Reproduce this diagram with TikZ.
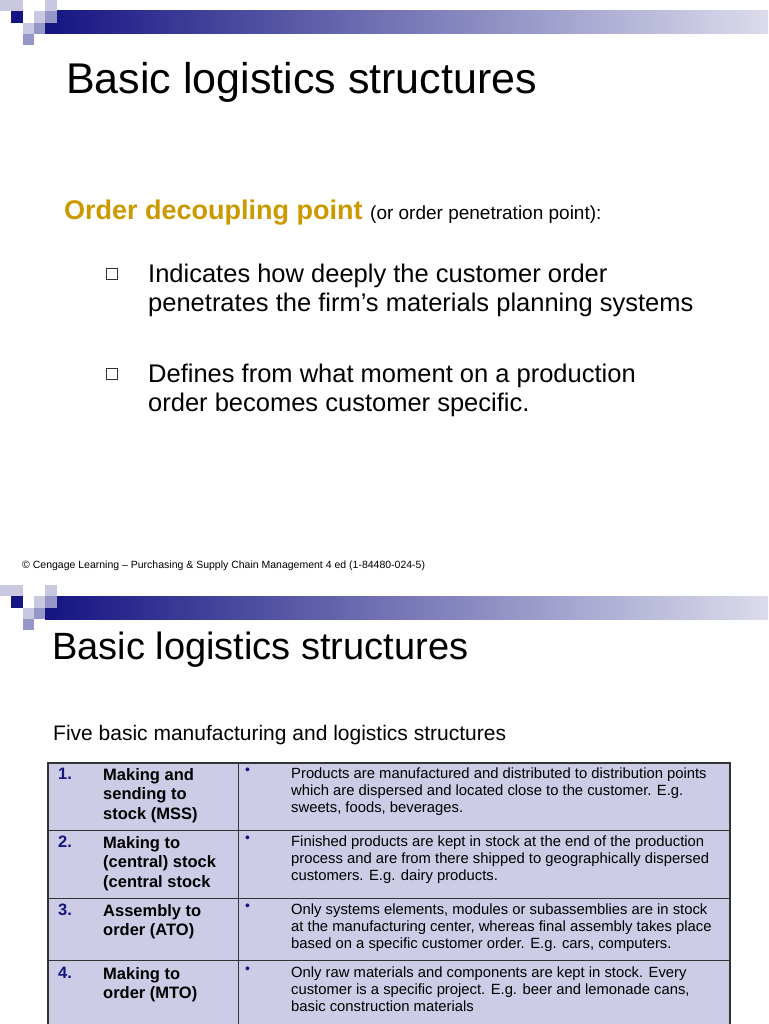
\documentclass[tikz,border=0pt]{standalone}
\usepackage{fontspec}
\setmainfont{Liberation Sans}
\definecolor{navy}{RGB}{20,20,130}
\definecolor{lav}{RGB}{204,204,230}
\definecolor{gold}{RGB}{204,153,0}
\definecolor{sq1}{RGB}{200,200,225}
\definecolor{sq2}{RGB}{150,150,200}
\begin{document}
\begin{tikzpicture}[x=1pt,y=-1pt,
  txt/.style={anchor=north west,inner sep=0pt,align=left},
  box/.style={draw=black!80,line width=0.6pt,minimum size=11pt,inner sep=0pt,anchor=north west},
  cell/.style={draw=black!80,line width=1pt,fill=lav}]
\useasboundingbox (0,0) rectangle (768,1024);
\fill[white] (0,0) rectangle (768,1024);
% header decorations
\foreach \yo in {0,585}{
  \begin{scope}[yshift=-\yo]
  \shade[left color=navy,right color=navy!15] (45,11) rectangle (768,34);
  \fill[navy] (11,11) rectangle (23,23);
  \fill[sq1] (0,0) rectangle (23,11);
  \fill[sq1] (34,11) rectangle (45,23);
  \fill[sq2] (45,11) rectangle (57,23);
  \fill[sq1] (45,0) rectangle (57,11);
  \fill[sq1] (23,23) rectangle (34,34);
  \fill[sq2] (34,23) rectangle (45,34);
  \fill[sq2] (23,34) rectangle (34,45);
  \end{scope}}
% slide 1
\node[txt,font=\fontsize{43}{47}\selectfont] (t1) at (66,62) {Basic logistics structures};
\node[txt,font=\fontsize{27}{31}\selectfont] (o) at (64,200) {\textcolor{gold}{\bfseries Order decoupling point} \fontsize{19}{22}\selectfont(or order penetration point):};
\node[box] (b1) at (106,268) {};
\node[txt,font=\fontsize{25.5}{29}\selectfont] (p1) at (148,264) {Indicates how deeply the customer order\\penetrates the firm’s materials planning systems};
\node[box] (b2) at (106,368) {};
\node[txt,font=\fontsize{25.5}{29}\selectfont] (p2) at (148,364) {Defines from what moment on a production\\order becomes customer specific.};
\node[txt,font=\fontsize{10.5}{12}\selectfont] (c) at (22,561) {© Cengage Learning – Purchasing \& Supply Chain Management 4 ed (1-84480-024-5)};
% slide 2
\node[txt,font=\fontsize{38}{42}\selectfont] (t2) at (52,632) {Basic logistics structures};
\node[txt,font=\fontsize{21}{25}\selectfont] (sub) at (53,725) {Five basic manufacturing and logistics structures};
\foreach \ya/\yb in {763/830,830/898,898/960,960/1030}{
  \draw[cell] (48,\ya) rectangle (238,\yb);
  \draw[cell] (238,\ya) rectangle (730,\yb);}
\draw[black!80,line width=2pt] (48,1030) -- (48,763) -- (730,763) -- (730,1030);
\foreach \y/\n/\a/\b in {
  768/1./{Making and\\sending to\\stock (MSS)}/{Products are manufactured and distributed to distribution points\\which are dispersed and located close to the customer. E.g.\\sweets, foods, beverages.},
  836/2./{Making to\\(central) stock\\(central stock}/{Finished products are kept in stock at the end of the production\\process and are from there shipped to geographically dispersed\\customers. E.g. dairy products.},
  904/3./{Assembly to\\order (ATO)}/{Only systems elements, modules or subassemblies are in stock\\at the manufacturing center, whereas final assembly takes place\\based on a specific customer order. E.g. cars, computers.},
  967/4./{Making to\\order (MTO)}/{Only raw materials and components are kept in stock. Every\\customer is a specific project. E.g. beer and lemonade cans,\\basic construction materials}}{
  \node[txt,font=\fontsize{16.5}{19.5}\selectfont\bfseries,text=navy] at (58,\y) {\n};
  \node[txt,font=\fontsize{16.5}{19.5}\selectfont\bfseries] at (103,\y) {\a};
  \node[txt,font=\fontsize{14}{16}\selectfont,text=navy] at (245,\y) {•};
  \node[txt,font=\fontsize{14.8}{17}\selectfont] at (291,\y) {\b};
}
\end{tikzpicture}
\end{document}
